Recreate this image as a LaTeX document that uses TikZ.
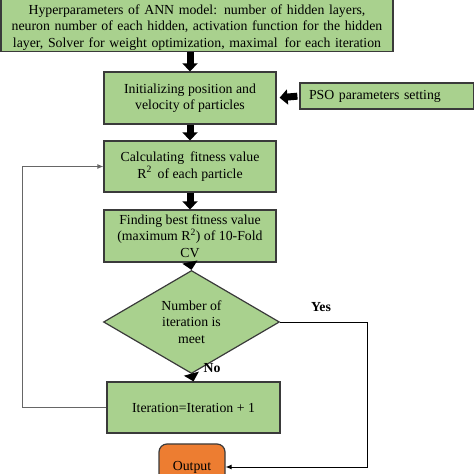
\documentclass[tikz,border=0pt]{standalone}
\usepackage{fontspec}
\setmainfont{Liberation Serif}
\usetikzlibrary{shapes.geometric,arrows.meta}
\definecolor{boxgreen}{HTML}{A9D18E}
\definecolor{boxorange}{HTML}{ED7D31}
\definecolor{edgegray}{HTML}{3A3A3A}

\begin{document}
\begin{tikzpicture}[x=1pt,y=1pt,
  stepbox/.style={draw=edgegray,line width=1.2pt,fill=boxgreen,align=center,inner sep=2pt,font=\fontsize{13.8}{16.5}\selectfont},
  bigarrow/.style={-{Triangle[width=15pt,length=8pt]},line width=7pt},
  thinarrow/.style={-{Latex[length=6pt,width=5pt]},line width=0.9pt}]
\useasboundingbox (0,0) rectangle (474,474);

\node [stepbox,anchor=south,minimum width=392pt,text width=388pt,inner ysep=1pt] (hyper) at (197,422)
  {\strut\\ Hyperparameters of ANN model: number of hidden layers,\\ neuron number of each hidden, activation function for the hidden\\ layer, Solver for weight optimization, maximal\, for each iteration};
\node [stepbox,minimum width=172pt,minimum height=52pt] (init) at (190,376) {Initializing position and\\ velocity of particles};
\node [stepbox,minimum width=174pt,minimum height=26pt,text width=156pt,inner xsep=9pt,align=left] (pso) at (387,378) {PSO parameters setting};
\node [stepbox,minimum width=172pt,minimum height=51pt] (calc) at (190,307.5) {Calculating\, fitness value\\ R\textsuperscript{2}\, of each particle};
\node [stepbox,minimum width=172pt,minimum height=52pt] (find) at (190,238) {Finding best fitness value\\ (maximum R\textsuperscript{2}) of 10-Fold\\ CV};
\node [stepbox,shape=diamond,minimum width=176pt,minimum height=86pt,inner sep=0pt] (dec) at (191.5,152) {Number of\\ iteration is\\ meet};
\node [stepbox,minimum width=173pt,minimum height=51pt] (iter) at (193.5,66.5) {Iteration=Iteration + 1};
\node [stepbox,fill=boxorange,rounded corners=8pt,minimum width=66pt,minimum height=46pt] (out) at (192,7) {Output};

\coordinate (back) at (22,0);
\coordinate (yesx) at (367,0);

\draw [bigarrow] (init.north |- hyper.south) to (init.north);
\draw [bigarrow,shorten <=2pt,shorten >=3pt] (pso.west) to (init.east);
\draw [bigarrow] (init.south) to (calc.north);
\draw [bigarrow] (calc.south) to (find.north);
\draw [bigarrow] (find.south) to (dec.north);
\draw [bigarrow] (dec.south) to (iter.north);
\draw [thinarrow,color=gray!80!black] (iter.west) -- (iter.west -| back) |- (calc.west);
\draw [thinarrow] (dec.east) -- (dec.east -| yesx) |- (out.east);

\node [font=\bfseries\fontsize{13.8}{16}\selectfont] (yes) at (321,167) {Yes};
\node [font=\bfseries\fontsize{13.8}{16}\selectfont] (no) at (212,106) {No};

\end{tikzpicture}
\end{document}
